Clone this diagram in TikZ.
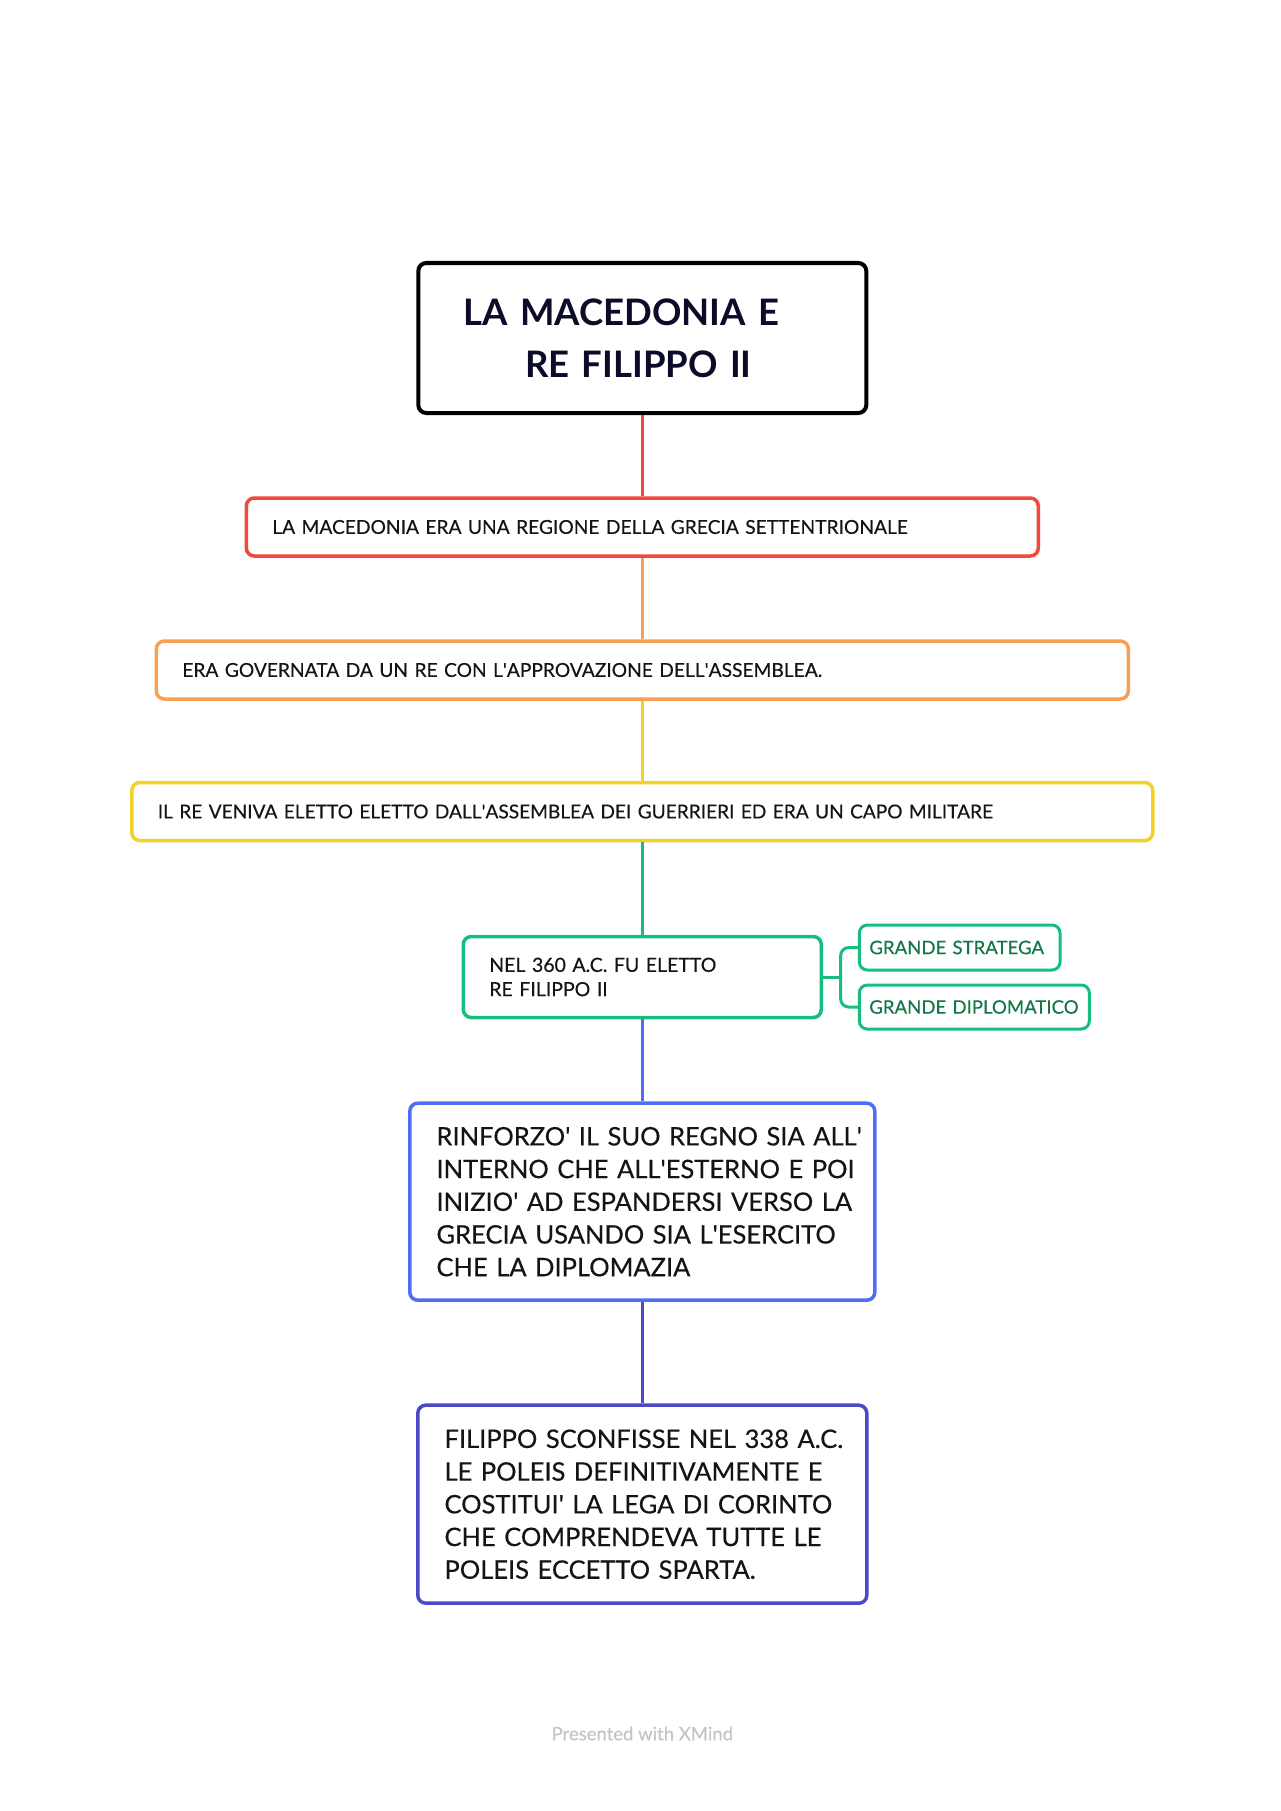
\documentclass[tikz,border=0pt]{standalone}
\usepackage{fontspec}
\setmainfont{Lato}
\newfontfamily\medfont{Lato}[FakeBold=0.35]
\newcommand{\apo}{\textquotesingle}
\definecolor{cred}{RGB}{242,72,62}
\definecolor{corange}{RGB}{245,160,82}
\definecolor{cyellow}{RGB}{242,210,40}
\definecolor{cgreen}{RGB}{22,190,126}
\definecolor{cblue}{RGB}{80,110,245}
\definecolor{cindigo}{RGB}{76,72,200}
\definecolor{ctext}{RGB}{12,12,40}
\definecolor{cbody}{RGB}{20,20,20}
\definecolor{csub}{RGB}{18,120,72}
\definecolor{cgray}{RGB}{196,196,196}
\begin{document}
\begin{tikzpicture}[x=1pt,y=-1pt,
  box/.style={draw,line width=3.5pt,rounded corners=8pt,fill=white,align=left,anchor=center,inner ysep=0pt,text=cbody},
  conn/.style={line width=3pt}]
\useasboundingbox (0,0) rectangle (1280,1811);
% title
\node[box,draw=black,line width=4pt,minimum width=448pt,minimum height=150pt,text width=408pt,inner xsep=20pt,text=ctext,font=\fontsize{36.5}{52}\selectfont\bfseries]
  (title) at (642.3,338) {\hspace*{25.5pt}LA MACEDONIA E\\\hspace*{87pt}RE FILIPPO II};
% red
\node[box,draw=cred,minimum width=792pt,minimum height=58pt,text width=740pt,inner xsep=26pt,font=\fontsize{19.2}{22}\medfont]
  (red) at (642.3,527) {LA MACEDONIA ERA UNA REGIONE DELLA GRECIA SETTENTRIONALE};
% orange
\node[box,draw=corange,minimum width=972pt,minimum height=58pt,text width=920pt,inner xsep=26pt,font=\fontsize{19.2}{22}\medfont]
  (orange) at (642.3,670) {ERA GOVERNATA DA UN RE CON L\apo APPROVAZIONE DELL\apo ASSEMBLEA.};
% yellow
\node[box,draw=cyellow,minimum width=1021pt,minimum height=58pt,text width=969pt,inner xsep=26pt,font=\fontsize{19.1}{22}\medfont]
  (yellow) at (642.3,811.5) {IL RE VENIVA ELETTO ELETTO DALL\apo ASSEMBLEA DEI GUERRIERI ED ERA UN CAPO MILITARE};
% green
\node[box,draw=cgreen,minimum width=358pt,minimum height=81pt,text width=306pt,inner xsep=26pt,font=\fontsize{19.5}{24.3}\medfont]
  (green) at (642.3,977) {NEL 360 A.C. FU ELETTO\\RE FILIPPO II};
\node[box,draw=cgreen,line width=3pt,minimum width=200.7pt,minimum height=45pt,text width=180.7pt,inner xsep=10pt,text=csub,font=\fontsize{18.6}{22}\medfont]
  (strat) at (959.7,947.5) {GRANDE STRATEGA};
\node[box,draw=cgreen,line width=3pt,minimum width=230pt,minimum height=44pt,text width=210pt,inner xsep=10pt,text=csub,font=\fontsize{18.6}{22}\medfont]
  (dipl) at (974.3,1007) {GRANDE DIPLOMATICO};
% blue
\node[box,draw=cblue,minimum width=465pt,minimum height=197pt,text width=411.6pt,inner xsep=26.7pt,font=\fontsize{25.5}{32.7}\medfont]
  (blue) at (642.3,1201.7) {\mbox{RINFORZO\apo{} IL SUO REGNO SIA ALL\apo}\\\mbox{INTERNO CHE ALL\apo ESTERNO E POI}\\\mbox{INIZIO\apo{} AD ESPANDERSI VERSO LA}\\\mbox{GRECIA USANDO SIA L\apo ESERCITO}\\CHE LA DIPLOMAZIA};
% indigo
\node[box,draw=cindigo,minimum width=449pt,minimum height=198pt,text width=395.6pt,inner xsep=26.7pt,font=\fontsize{25.5}{32.7}\medfont]
  (indigo) at (642.3,1504.2) {\mbox{FILIPPO SCONFISSE NEL 338 A.C.}\\\mbox{LE POLEIS DEFINITIVAMENTE E}\\\mbox{COSTITUI\apo{} LA LEGA DI CORINTO}\\\mbox{CHE COMPRENDEVA TUTTE LE}\\POLEIS ECCETTO SPARTA.};
% footer
\node[text=cgray,font=\fontsize{18.5}{22}\medfont] (foot) at (642.3,1733.5) {Presented with XMind};
% connectors
\draw[conn,draw=cred] (title.south) -- (red.north);
\draw[conn,draw=corange] (red.south) -- (orange.north);
\draw[conn,draw=cyellow] (orange.south) -- (yellow.north);
\draw[conn,draw=cgreen] (yellow.south) -- (green.north);
\draw[conn,draw=cblue] (green.south) -- (blue.north);
\draw[conn,draw=cindigo] (blue.south) -- (indigo.north);
\coordinate (br) at (840.7,977);
\draw[conn,draw=cgreen] (green.east) -- (br);
\draw[conn,draw=cgreen,rounded corners=8pt] (strat.west) -| (br) |- (dipl.west);
\end{tikzpicture}
\end{document}
